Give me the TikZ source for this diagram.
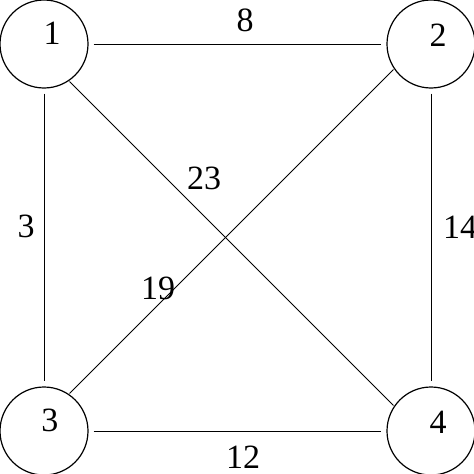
\documentclass[tikz,border=0pt]{standalone}
\usepackage{fontspec}
\setmainfont{Liberation Serif}
\begin{document}
\begin{tikzpicture}[x=1pt,y=-1pt,
  vert/.style={circle,draw,line width=1.2pt,minimum size=88pt,inner sep=0pt},
  num/.style={font=\fontsize{34}{40}\selectfont},
  edge/.style={line width=1pt},
  gap/.style={shorten <=5pt,shorten >=5pt}]
\useasboundingbox (0,0) rectangle (474,474);
\begin{scope}
\clip (0,0) rectangle (474,474);
\node[vert,label={[num,xshift=8pt,yshift=11pt]center:1}] (n1) at (44,44) {};
\node[vert,label={[num,xshift=7pt,yshift=9pt]center:2}] (n2) at (431,44) {};
\node[vert,label={[num,xshift=6pt,yshift=11pt]center:3}] (n3) at (44,431) {};
\node[vert,label={[num,xshift=7pt,yshift=9pt]center:4}] (n4) at (431,431) {};
\end{scope}
\draw[edge,gap] (n1) -- (n2);
\draw[edge,gap] (n1) -- (n3);
\draw[edge,gap] (n2) -- (n4);
\draw[edge,gap] (n3) -- (n4);
\draw[edge,transform canvas={shift={(-6pt,-6pt)}}] (n1) -- (n4);
\draw[edge,transform canvas={shift={(-6pt,6pt)}}] (n2) -- (n3);
\node[num] (w12) at (245,20) {8};
\node[num] (w13) at (26,226) {3};
\node[num] (w24) at (460,227) {14};
\node[num] (w14) at (204,178) {23};
\node[num] (w23) at (158,288) {19};
\node[num] (w34) at (243,457) {12};
\end{tikzpicture}
\end{document}
